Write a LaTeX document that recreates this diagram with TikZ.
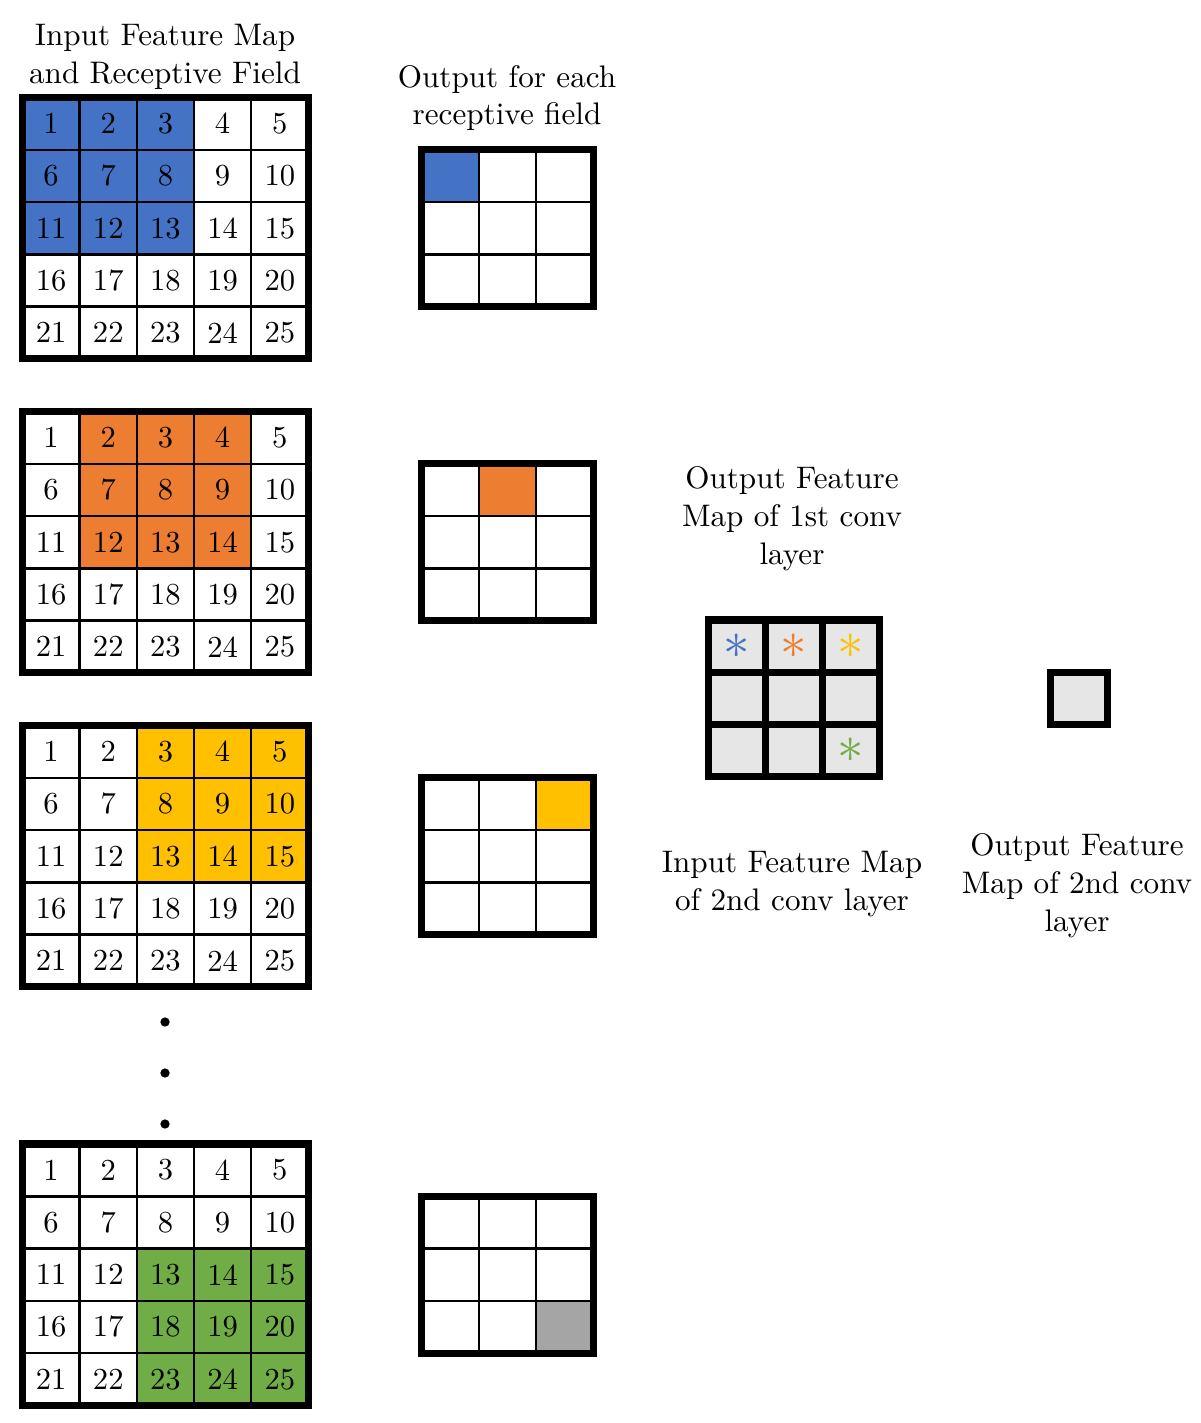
\documentclass[tikz,border=0pt]{standalone}
\usepackage{xcolor}
\usepackage{tikz}

\definecolor{fieldblue}{HTML}{4472C4}
\definecolor{fieldorange}{HTML}{ED7D31}
\definecolor{fieldyellow}{HTML}{FFC000}
\definecolor{fieldgreen}{HTML}{70AD47}
\definecolor{outgrey}{HTML}{A5A5A5}
\definecolor{mapgrey}{HTML}{E7E6E6}

\tikzset{
    cellunit/.style={x=0.6578cm, y=-0.6015cm},
    cellline/.style={line width=0.8pt},
    frame/.style={line width=2.3pt},
    num/.style={inner sep=0pt},
    heading/.style={align=center, inner sep=0pt, font=\fontsize{10.2}{12.4}\selectfont},
    star/.style={inner sep=0pt, font=\fontsize{19}{20}\selectfont}
}

\begin{document}
\begin{tikzpicture}[x=0.0115cm, y=-0.0115cm]
        \useasboundingbox (0,0) rectangle (1200,1423);

        \node[heading] (fieldtitle) at (165,57) {Input Feature Map\\and Receptive Field};
        \node[heading] (outtitle) at (507,98) {Output for each\\receptive field};
        \node[heading] (firstout) at (792,518.5) {Output Feature\\Map of 1st conv\\layer};
        \node[heading] (secondin) at (792,884) {Input Feature Map\\of 2nd conv layer};
        \node[heading] (secondout) at (1077,885.5) {Output Feature\\Map of 2nd conv\\layer};

        % input map with receptive field, and its output cell
        \foreach \k/\ytop/\fc/\oc/\cx/\cy in {1/97.5/fieldblue/fieldblue/0/0,
                2/411.5/fieldorange/fieldorange/1/0,
                3/725.5/fieldyellow/fieldyellow/2/0,
                4/1144/fieldgreen/outgrey/2/2} {
            \begin{scope}[shift={(22.5,\ytop)}, cellunit]
                \fill[\fc] (\cx,\cy) rectangle ++(3,3);
                \foreach \i in {1,...,4} {
                    \draw[cellline] (\i,0) -- (\i,5);
                    \draw[cellline] (0,\i) -- (5,\i);
                }
                \draw[frame] (0,0) rectangle (5,5);
                \foreach \r in {0,...,4} \foreach \c in {1,...,5} {
                    \pgfmathtruncatemacro\n{5*\r+\c}
                    \node[num] (in\k-\n) at (\c-0.5,\r+0.5) {\n};
                }
            \end{scope}
            \begin{scope}[shift={(421.7,\ytop+52.3)}, cellunit]
                \fill[\oc] (\cx,\cy) rectangle ++(1,1);
                \foreach \i in {1,2} {
                    \draw[cellline] (\i,0) -- (\i,3);
                    \draw[cellline] (0,\i) -- (3,\i);
                }
                \draw[frame] (0,0) rectangle (3,3);
            \end{scope}
        }

        \filldraw[black] (165,1022) circle (1.3pt);
        \filldraw[black] (165,1073) circle (1.3pt);
        \filldraw[black] (165,1124) circle (1.3pt);

        % 2nd conv layer
        \begin{scope}[shift={(708,620)}, cellunit]
            \fill[mapgrey] (0,0) rectangle (3,3);
            \foreach \i in {1,2} {
                \draw[frame] (\i,0) -- (\i,3);
                \draw[frame] (0,\i) -- (3,\i);
            }
            \draw[frame] (0,0) rectangle (3,3);
            \node[star, text=fieldblue] (starblue) at (0.5,0.5) {$\ast$};
            \node[star, text=fieldorange] (starorange) at (1.5,0.5) {$\ast$};
            \node[star, text=fieldyellow] (staryellow) at (2.5,0.5) {$\ast$};
            \node[star, text=fieldgreen] (stargreen) at (2.5,2.5) {$\ast$};
        \end{scope}
        \begin{scope}[shift={(1050,672.5)}, cellunit]
            \fill[mapgrey] (0,0) rectangle (1,1);
            \draw[frame] (0,0) rectangle (1,1);
        \end{scope}
    \end{tikzpicture}
\end{document}
